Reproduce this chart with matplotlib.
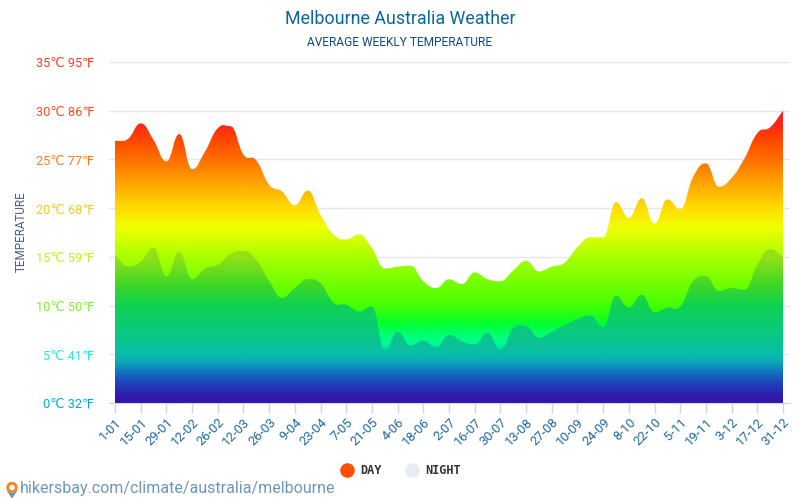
import numpy as np
import matplotlib
matplotlib.use('Agg')
import matplotlib.pyplot as plt
from matplotlib.colors import LinearSegmentedColormap
from matplotlib.lines import Line2D
from matplotlib.path import Path
from matplotlib.patches import PathPatch, Circle, Polygon
from matplotlib.transforms import IdentityTransform

plt.rcParams['font.family'] = ['Roboto', 'DejaVu Sans']

day_temp = [26.9, 27.1, 28.7, 27.0, 24.8, 27.6, 24.0, 25.8, 28.2, 28.4, 25.5, 24.9, 22.4, 21.7,
            20.3, 21.8, 19.3, 17.3, 16.8, 17.3, 15.9, 13.8, 14.0, 14.1, 12.5, 11.8, 12.7, 12.2,
            13.4, 12.7, 12.5, 13.6, 14.6, 13.5, 14.0, 14.4, 16.0, 17.0, 17.0, 20.6, 19.0, 21.0,
            18.4, 20.9, 19.9, 23.2, 24.6, 22.2, 23.1, 25.1, 27.7, 28.3, 30.0]
night_temp = [15.2, 14.0, 14.5, 15.9, 13.0, 15.5, 12.7, 13.8, 14.2, 15.3, 15.6, 14.7, 12.5, 10.8,
              11.8, 12.7, 12.3, 10.3, 10.1, 9.4, 9.9, 5.4, 7.3, 5.9, 6.4, 5.7, 7.0, 6.3,
              6.0, 7.2, 5.4, 7.7, 7.9, 6.7, 7.3, 8.0, 8.6, 9.0, 7.8, 11.0, 9.8, 11.1,
              9.3, 9.8, 9.9, 12.5, 13.0, 11.5, 11.8, 11.6, 14.2, 15.8, 15.0]
date_labels = ['1-01', '15-01', '29-01', '12-02', '26-02', '12-03', '26-03', '9-04', '23-04',
               '7-05', '21-05', '4-06', '18-06', '2-07', '16-07', '30-07', '13-08', '27-08',
               '10-09', '24-09', '8-10', '22-10', '5-11', '19-11', '3-12', '17-12', '31-12']
y_labels = ['0℃ 32℉', '5℃ 41℉', '10℃ 50℉', '15℃ 59℉', '20℃ 68℉', '25℃ 77℉', '30℃ 86℉', '35℃ 95℉']
y_colors = ['#0aa5d8', '#22ecd0', '#7cf02a', '#c4f01e', '#f7c81e', '#ff7a1e', '#ff4a28', '#ff3a1e']


def rgb(r, g, b):
    return (r / 255, g / 255, b / 255)


day_cmap = LinearSegmentedColormap.from_list('day', [
    (0, rgb(50, 20, 170)), (5 / 35, rgb(10, 190, 170)), (6 / 35, rgb(0, 250, 150)),
    (7 / 35, rgb(0, 255, 110)), (8 / 35, rgb(0, 255, 50)), (10 / 35, rgb(70, 255, 0)),
    (15 / 35, rgb(170, 255, 0)), (18 / 35, rgb(240, 255, 0)), (20 / 35, rgb(255, 220, 0)),
    (25 / 35, rgb(255, 110, 0)), (27 / 35, rgb(255, 70, 0)), (28.5 / 35, rgb(255, 40, 20)),
    (30 / 35, rgb(255, 30, 50)), (1, rgb(255, 20, 60))])
night_cmap = LinearSegmentedColormap.from_list('night', [
    (0, rgb(50, 20, 170)), (1 / 35, rgb(45, 35, 175)), (2 / 35, rgb(30, 70, 185)),
    (3 / 35, rgb(20, 110, 195)), (4 / 35, rgb(10, 165, 185)), (5 / 35, rgb(10, 190, 170)),
    (7 / 35, rgb(10, 200, 130)), (10 / 35, rgb(15, 210, 80)), (12 / 35, rgb(60, 215, 40)),
    (15 / 35, rgb(150, 225, 20)), (1, rgb(165, 225, 15))])


def smooth_area(values):
    # flat tangents on the peaks, so the curve does not overshoot
    y = np.array(values)
    m = np.zeros(len(y))
    for i in range(1, len(y) - 1):
        if (y[i] - y[i - 1]) * (y[i + 1] - y[i]) > 0:
            m[i] = (y[i + 1] - y[i - 1]) / 2
    m[0] = y[1] - y[0]
    m[-1] = y[-1] - y[-2]
    verts = [(0, y[0])]
    codes = [Path.MOVETO]
    for i in range(len(y) - 1):
        verts += [(i + 0.45, y[i] + m[i] * 0.45), (i + 0.55, y[i + 1] - m[i + 1] * 0.45), (i + 1, y[i + 1])]
        codes += [Path.CURVE4] * 3
    verts += [(len(y) - 1, 0), (0, 0), (0, y[0])]
    codes += [Path.LINETO, Path.LINETO, Path.CLOSEPOLY]
    return Path(verts, codes)


fig = plt.figure(figsize=(8, 5), dpi=100)
ax = fig.add_axes([109 / 800, (500 - 403) / 500, (790 - 109) / 800, (403 - 62) / 500])

step = (783 - 115) / 52

grad = np.linspace(0, 1, 350).reshape(-1, 1)
for values, cmap in [(day_temp, day_cmap), (night_temp, night_cmap)]:
    im = ax.imshow(grad, cmap=cmap, origin='lower', extent=(0, 52, 0, 35), aspect='auto', zorder=2,
                   interpolation='bilinear')
    im.set_clip_path(PathPatch(smooth_area(values), transform=ax.transData))
ax.set_xlim(-6 / step, 52 + 7 / step)
ax.set_ylim(0, 35)

ax.set_yticks(range(0, 36, 5))
ax.set_yticklabels(y_labels, fontsize=9.2)
for lab, col in zip(ax.get_yticklabels(), y_colors):
    lab.set_color(col)
ax.tick_params(axis='y', length=0, pad=10.8)
ax.grid(True, axis='y', color='#e6e6e6', lw=1)
ax.set_axisbelow(True)

ax.set_xticks(range(0, 53, 2))
ax.set_xticklabels(date_labels, rotation=45, ha='right', rotation_mode='anchor', fontsize=9.4, color='#1f6a9e')
ax.tick_params(axis='x', length=7, color='#ccd6eb', width=1, pad=2)

for name in ['top', 'right', 'left']:
    ax.spines[name].set_visible(False)
ax.spines['bottom'].set_color('#ccd6eb')

fig.text(0.5, 1 - 18.5 / 500, 'Melbourne Australia Weather', ha='center', va='center', fontsize=12.9, color='#0b65a0')
fig.text(0.5, 1 - 42 / 500, 'AVERAGE WEEKLY TEMPERATURE', ha='center', va='center', fontsize=8.6, color='#0e4a80')
fig.text(21 / 800, 1 - 232 / 500, 'TEMPERATURE', rotation=90, ha='center', va='center', fontsize=8.4, color='#4a5a78')

handles = [Line2D([], [], ls='none', marker='o', ms=9.5, color='#ff5000', label='DAY'),
           Line2D([], [], ls='none', marker='o', ms=9.5, color='#e6ecf2', label='NIGHT')]
fig.legend(handles=handles, ncol=2, loc='center', bbox_to_anchor=(398 / 800, 1 - 471 / 500), frameon=False,
           prop={'family': 'DejaVu Sans Mono', 'weight': 'bold', 'size': 8.6}, labelcolor='#333333',
           handletextpad=0.1, columnspacing=1.5)

fig.text(20 / 800, 1 - 489 / 500, 'hikersbay.com/climate/australia/melbourne', ha='left', va='center',
         fontsize=11.5, color='#6b97bb')

# small map pin next to the url
pin = IdentityTransform()
fig.add_artist(Polygon([(7.5, 9.5), (16.5, 9.5), (12, 2.5)], closed=True, color='#5f9ac4', transform=pin))
fig.add_artist(Circle((12, 12.5), 5, color='#f5862a', transform=pin))
fig.add_artist(Circle((12, 12.5), 2, color='white', transform=pin))

fig.savefig('out.png', dpi=100)
